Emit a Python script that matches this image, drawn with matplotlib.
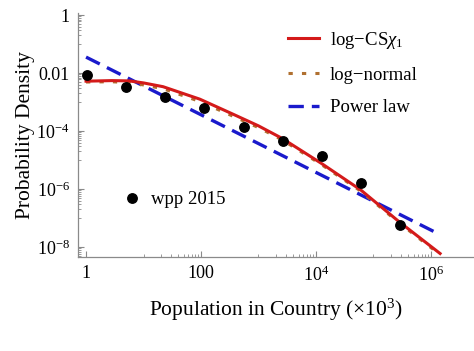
import numpy as np
import matplotlib
matplotlib.use("Agg")
import matplotlib.pyplot as plt
import matplotlib.ticker as ticker
from matplotlib.lines import Line2D

plt.rcParams['font.family'] = ['Liberation Serif', 'DejaVu Serif']
plt.rcParams['mathtext.fontset'] = 'custom'
plt.rcParams['mathtext.rm'] = 'Liberation Serif'
plt.rcParams['mathtext.it'] = 'Liberation Serif:italic'

# wpp 2015 histogram points (log10 x, log10 density)
wpp_logx = [0.02, 0.70, 1.38, 2.06, 2.74, 3.42, 4.10, 4.78, 5.46]
wpp_logy = [-2.07, -2.48, -2.83, -3.21, -3.86, -4.34, -4.86, -5.79, -7.24]

# log-CS chi_1 fit
cs_logx = [0.0, 0.45, 0.75, 1.0, 1.34, 1.98, 2.56, 3.00, 3.41, 4.10, 4.78, 5.45, 6.16]
cs_logy = [-2.28, -2.26, -2.27, -2.34, -2.47, -2.90, -3.42, -3.82, -4.25, -5.12, -6.03, -7.13, -8.22]

# log-normal fit
ln_logx = [0.0, 0.45, 0.75, 1.0, 1.34, 1.98, 2.56, 3.00, 3.41, 4.10, 4.78, 5.45, 6.12]
ln_logy = [-2.31, -2.30, -2.33, -2.41, -2.54, -2.98, -3.49, -3.88, -4.30, -5.16, -6.07, -7.17, -8.20]

# power law fit (straight on log-log)
pl_logx = [0.0, 6.07]
pl_logy = [-1.45, -7.48]

red = '#d41a1a'
brown = '#b07030'
blue = '#1a1acc'

fig = plt.figure(figsize=(4.74, 3.51), dpi=100)
ax = fig.add_axes([78 / 474, 1 - 257 / 351, (474 - 78) / 474, (257 - 13) / 351])

ax.plot(10 ** np.array(pl_logx), 10 ** np.array(pl_logy), color=blue, lw=2.4,
        dashes=(4.6, 2.4), label='Power law', zorder=2)
ax.plot(10 ** np.array(ln_logx), 10 ** np.array(ln_logy), color=brown, lw=2.2,
        dashes=(1.4, 3.0), label='log\u2212normal', zorder=3)
ax.plot(10 ** np.array(cs_logx), 10 ** np.array(cs_logy), color=red, lw=2.2,
        label='log\u2212CS$\\chi_1$', zorder=4)
ax.plot(10 ** np.array(wpp_logx), 10 ** np.array(wpp_logy), 'o', color='black',
        ms=6.8, zorder=5)

ax.set_xscale('log')
ax.set_yscale('log')
ax.set_xlim(10 ** -0.14, 10 ** 6.75)
ax.set_ylim(10 ** -8.34, 10 ** 0.07)

x_major = [1, 1e2, 1e4, 1e6]
x_labels = ['1', '100', '$10^{4}$', '$10^{6}$']
y_major = [1, 1e-2, 1e-4, 1e-6, 1e-8]
y_labels = ['1', '0.01', '$10^{\u22124}$', '$10^{\u22126}$', '$10^{\u22128}$']

ax.set_xticks(x_major, x_labels)
ax.set_yticks(y_major, y_labels)
x_minor = [j * 10.0 ** (2 * k + 1) for k in range(0, 3) for j in range(1, 10)]
y_minor = [j * 10.0 ** (2 * k + 1) for k in range(-5, 0) for j in range(1, 10)]
ax.set_xticks([v for v in x_minor if v < 10 ** 6.75], minor=True)
ax.set_yticks([v for v in y_minor if 10 ** -8.34 < v < 1], minor=True)
ax.xaxis.set_minor_formatter(ticker.NullFormatter())
ax.yaxis.set_minor_formatter(ticker.NullFormatter())

for s in ('top', 'right'):
    ax.spines[s].set_visible(False)
for s in ('left', 'bottom'):
    ax.spines[s].set_color('#8a8a8a')
    ax.spines[s].set_linewidth(0.9)

ax.tick_params(which='major', direction='in', length=4, width=0.8, color='#8a8a8a',
               labelsize=13, pad=6)
ax.tick_params(which='minor', direction='in', length=2, width=0.6, color='#8a8a8a')

ax.set_xlabel('Population in Country ($\\times10^3$)', fontsize=15.5, labelpad=9)
ax.set_ylabel('Probability Density', fontsize=15.5, labelpad=1)

h, l = ax.get_legend_handles_labels()
order = [2, 1, 0]
leg = ax.legend([h[i] for i in order], [l[i] for i in order], loc='upper right',
                bbox_to_anchor=(0.90, 1.0), frameon=False, fontsize=13.5,
                handlelength=1.65, handletextpad=0.55, labelspacing=0.83)
ax.add_artist(leg)
dot = Line2D([], [], marker='o', ls='none', color='black', ms=6.8)
ax.legend([dot], ['wpp 2015'], loc='lower left', bbox_to_anchor=(0.07, 0.13),
          frameon=False, fontsize=13.5, handlelength=1.0, handletextpad=0.5)

fig.savefig('out.png', dpi=100)
